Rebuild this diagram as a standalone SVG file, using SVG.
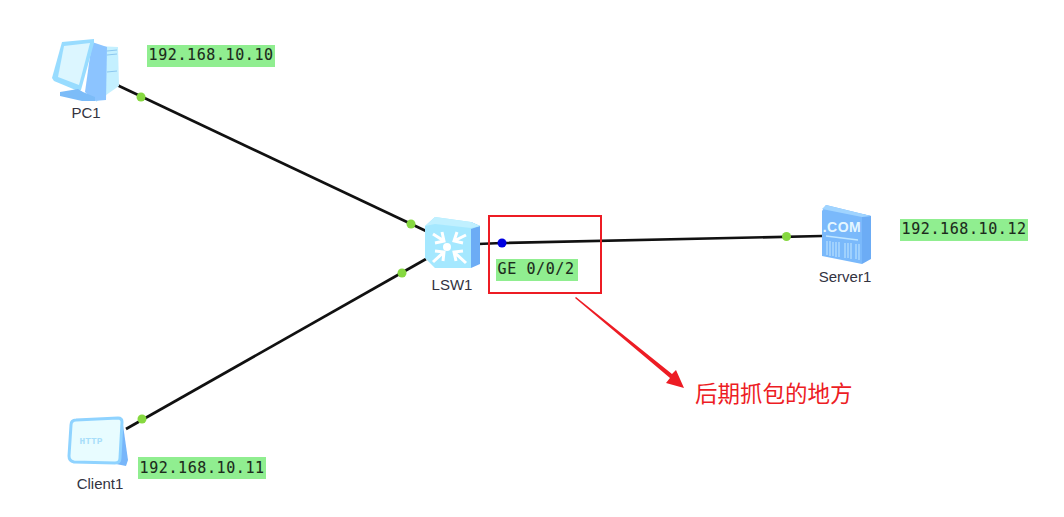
<svg xmlns="http://www.w3.org/2000/svg" width="1064" height="517" viewBox="0 0 1064 517">
<style>
.lbl{font:15px "Liberation Sans",Arial,sans-serif;fill:#33333f;text-anchor:middle}
.ip{font:15px "DejaVu Sans Mono","Liberation Mono",monospace;letter-spacing:.6px;fill:#1c2a1c;stroke:#1c2a1c;stroke-width:.1}
.bg{fill:#90ee90}
.link{stroke:#111;stroke-width:2.700;fill:none}
.dot{fill:#86d840}
</style>
<rect width="1064" height="517" fill="#fff"/>
<g id="connectors">
<line class="link" x1="117" y1="85" x2="426" y2="231"/>
<line class="link" x1="126" y1="429" x2="426" y2="259"/>
<path class="link" d="M478 244 L502 243 L822 236"/>
<circle class="dot" cx="141" cy="97" r="4.500"/>
<circle class="dot" cx="411" cy="224" r="4.500"/>
<circle class="dot" cx="402" cy="273" r="4.500"/>
<circle class="dot" cx="142" cy="419" r="4.500"/>
<circle class="dot" cx="786.500" cy="236.500" r="4.500"/>
<circle cx="502" cy="243" r="4.500" fill="#0000e0"/>
</g>
<g id="PC1">
<path d="M96 46 L118 47 L119 86 L96 102Z" fill="#c4f0ff"/>
<path d="M92 42 L107 47 L106 100 L94 101 L85 92Z" fill="#8cc4ff"/>
<path d="M62 42 L94 39 L94 43 L81 90 L78 91 L54 81 L52 78Z" fill="#98dcff"/>
<path d="M64 46 L90 43 L79 85 L58 77Z" fill="#dcf6ff"/>
<path d="M60 92 L78 89 L83 92 L95 97 L95 101 L82 101 L60 96Z" fill="#7cbcf8"/>
<path d="M107 51 L117 50 M107 55 L117 54 M107 72 L117 71" stroke="#8cc8f0" stroke-width="1"/>
<text class="lbl" x="86" y="118">PC1</text>
</g>
<g id="LSW1">
<path d="M471 222 L480 226 L480 264 L471 268Z" fill="#6cacf5"/>
<path d="M435 217 L471 222 L480 226 L471 229 L471 268 L435 268 L425 258 L425 226Z" fill="#a5e8ff"/>
<path d="M425 226 L435 217 L471 222 L480 226 L471 228 L435 224Z" fill="#c0f0ff"/>
<g stroke="#fff" stroke-width="3" fill="none">
<path d="M433 234 L444 241 M442 232 L444 241 L435 243"/>
<path d="M466 235 L454 241 M457 232 L454 241 L463 243"/>
<path d="M433 262 L444 252 M435 251 L444 252 L443 261"/>
<path d="M466 263 L454 252 M463 251 L454 252 L456 261"/>
</g>
<circle cx="447" cy="247" r="4" fill="#fff"/>
<text class="lbl" x="452" y="290">LSW1</text>
</g>
<g id="Server1">
<path d="M862 214 L871 216 L871 259 L862 264Z" fill="#6cacf5"/>
<path d="M826 205 L871 216 L862 217 L862 264 L822 256 L822 211Z" fill="#7ab9fb"/>
<path d="M826 205 L871 216 L862 217 L822 209Z" fill="#a0d4ff"/>
<text x="842" y="232" font-family="Liberation Sans,sans-serif" font-weight="bold" font-size="14" letter-spacing=".5" fill="#e4f6ff" text-anchor="middle">.COM</text>
<path d="M826 236 L858 240" stroke="#bfe6ff" stroke-width="1.500"/>
<g stroke="#c4e8ff" stroke-width="1" fill="none">
<path d="M827 241 V255 M830 241 V256 M833 242 V256 M836 242 V257 M839 242 V257 M845 243 V258 M848 243 V258 M851 243 V259 M856 244 V259 M859 244 V260"/>
</g>
<text class="lbl" x="845" y="282">Server1</text>
</g>
<g id="Client1">
<path d="M122 418 L128 460 L126 466 L116 464Z" fill="#77b6fa"/>
<path d="M76 420 L118 418 Q122 418 122 422 L120 458 Q120 463 115 463 L74 462 Q69 461 69 456 L71 425 Q71 420 76 420Z" fill="#e8fcff" stroke="#8fd3ff" stroke-width="3"/>
<text x="91" y="444" font-family="Liberation Mono,monospace" font-weight="bold" font-size="9.500" fill="#a8defa" text-anchor="middle">HTTP</text>
<text class="lbl" x="100" y="489">Client1</text>
</g>
<g id="ip-pc1"><rect class="bg" x="147" y="45" width="128" height="22"/><text class="ip" x="148.500" y="60">192.168.10.10</text></g>
<g id="ip-client"><rect class="bg" x="138" y="457" width="128" height="22"/><text class="ip" x="139.500" y="473">192.168.10.11</text></g>
<g id="ip-server"><rect class="bg" x="900" y="219" width="128" height="22"/><text class="ip" x="901.500" y="234">192.168.10.12</text></g>
<g id="port-label"><rect class="bg" x="496" y="259" width="82" height="22"/><text class="ip" x="497.500" y="274">GE 0/0/2</text></g>
<g id="annotation">
<rect x="489" y="216" width="112" height="77" fill="none" stroke="#ed1c24" stroke-width="2"/>
<path d="M576 297 L672 374 L676 370 L684 388 L666 383 L670 378 L575 298Z" fill="#ed1c24"/>
<text x="695" y="402" font-family="Noto Sans CJK SC,sans-serif" font-size="22.500" fill="#ed1c24">后期抓包的地方</text>
</g>
</svg>
